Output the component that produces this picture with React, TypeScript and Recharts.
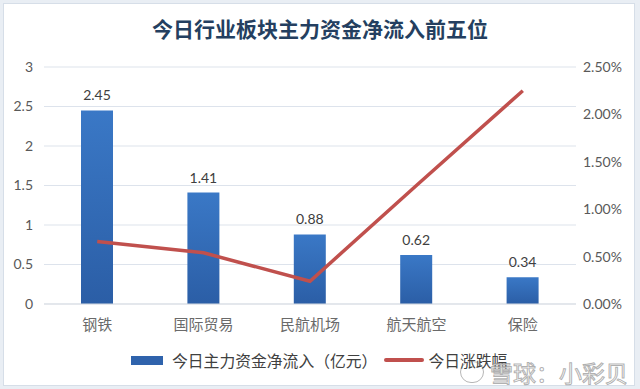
import React from 'react';
import { ComposedChart, Bar, Line, XAxis, YAxis, CartesianGrid, LabelList } from 'recharts';

const categories = ['钢铁', '国际贸易', '民航机场', '航天航空', '保险'];
const inflow = [2.45, 1.41, 0.88, 0.62, 0.34];
const changePct = [0.66, 0.54, 0.24, 1.25, 2.25];
const leftTicks = [0, 0.5, 1, 1.5, 2, 2.5, 3];
const rightTicks = [0, 0.5, 1, 1.5, 2, 2.5];

const title = '今日行业板块主力资金净流入前五位';
const barName = '今日主力资金净流入（亿元）';
const lineName = '今日涨跌幅';
const watermark = '雪球：小彩贝';

const data = categories.map((name, i) => ({ name, inflow: inflow[i], change: changePct[i] }));

const numFont = 'Lato, "Noto Sans", sans-serif';
const cjkFont = '"Noto Sans CJK SC", "Noto Sans", sans-serif';

export default function App() {
  return (
    <div style={{ position: 'absolute', left: 0, top: 0, width: 640, height: 389, background: '#e9eef4', overflow: 'hidden' }}>
      <div style={{ position: 'absolute', left: 3, top: 3, width: 630, height: 381, background: '#ffffff', border: '1px solid #d6dee8' }} />
      <div style={{ position: 'absolute', left: 0, top: 13, width: 640, textAlign: 'center', fontFamily: cjkFont, fontWeight: 700, fontSize: 21, color: '#243f60' }}>
        {title}
      </div>
      <div style={{ position: 'absolute', left: 0, top: 0 }}>
        <ComposedChart width={640} height={389} data={data} margin={{ top: 67, right: 0, left: 0, bottom: 55 }}>
          <defs>
            <linearGradient id="barGrad" x1="0" y1="0" x2="0" y2="1">
              <stop offset="0%" stopColor="#3a78c6" />
              <stop offset="100%" stopColor="#2b5ea6" />
            </linearGradient>
          </defs>
          <CartesianGrid vertical={false} stroke="#dde3ec" strokeWidth={1.2} yAxisId="left" />
          <XAxis dataKey="name" height={30} tickLine={false} axisLine={{ stroke: '#d9dde3' }} tickMargin={9}
            tick={{ fontFamily: cjkFont, fontSize: 15, fill: '#6a6a6a' }} interval={0} />
          <YAxis yAxisId="left" orientation="left" width={44} domain={[0, 3]} ticks={leftTicks} tickLine={false} axisLine={false}
            tickMargin={5} tick={{ fontFamily: numFont, fontSize: 14, fill: '#595959' }} />
          <YAxis yAxisId="right" orientation="right" width={64} domain={[0, 2.5]} ticks={rightTicks} tickLine={false} axisLine={false}
            tickMargin={1} tickFormatter={(v: number) => v.toFixed(2) + '%'} tick={{ fontFamily: numFont, fontSize: 14, fill: '#595959' }} />
          <Bar yAxisId="left" dataKey="inflow" fill="url(#barGrad)" barSize={32} isAnimationActive={false}>
            <LabelList dataKey="inflow" position="top" offset={10} formatter={(v: number) => v.toFixed(2)}
              style={{ fontFamily: numFont, fontSize: 14, fill: '#404040' }} />
          </Bar>
          <Line yAxisId="right" dataKey="change" type="linear" stroke="#c0504d" strokeWidth={3.5} dot={false} activeDot={false} isAnimationActive={false} />
        </ComposedChart>
      </div>
      <div style={{ position: 'absolute', left: 131, top: 350, height: 20, display: 'flex', alignItems: 'center', fontFamily: cjkFont, fontSize: 15.8, color: '#404040', whiteSpace: 'nowrap' }}>
        <span style={{ display: 'inline-block', width: 32, height: 9, background: '#2f63ac', marginRight: 9 }} />
        <span>{barName}</span>
        <span style={{ display: 'inline-block', width: 40, height: 4, borderRadius: 2, background: '#c0504d', marginLeft: 7, marginRight: 4 }} />
        <span>{lineName}</span>
      </div>
      <div style={{ position: 'absolute', left: 460, top: 358, height: 28, display: 'flex', alignItems: 'center', fontFamily: cjkFont, fontSize: 23, color: 'rgba(255,255,255,0.75)', WebkitTextStroke: '1px rgba(110,110,110,0.55)', whiteSpace: 'nowrap' }}>
        <span style={{ display: 'inline-block', width: 22, height: 20, borderRadius: 11, border: '1.5px solid rgba(110,110,110,0.5)', marginRight: 6 }} />
        <span>{watermark}</span>
      </div>
    </div>
  );
}
